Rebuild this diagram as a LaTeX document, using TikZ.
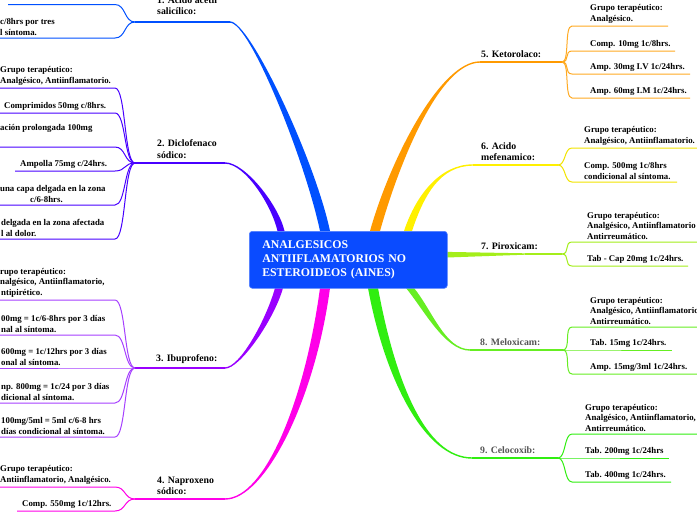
\documentclass[tikz,border=0pt]{standalone}
\usepackage{fontspec}
\setmainfont{Liberation Serif}
\usetikzlibrary{calc}
\definecolor{cbox}{HTML}{0A4BFF}
\definecolor{cba}{HTML}{0050FF}
\definecolor{cbb}{HTML}{4800FF}
\definecolor{cbc}{HTML}{9A00FF}
\definecolor{cbcs}{HTML}{A640FF}
\definecolor{cbd}{HTML}{FF00E8}
\definecolor{cbe}{HTML}{FF9A00}
\definecolor{cbes}{HTML}{FFAA22}
\definecolor{cbf}{HTML}{FFF000}
\definecolor{cbfs}{HTML}{F2E400}
\definecolor{cbg}{HTML}{A4EE1A}
\definecolor{cbh}{HTML}{66EE22}
\definecolor{cbi}{HTML}{30EE10}
\definecolor{grey}{HTML}{555555}
\tikzset{
  itemtxt/.style={font=\fontsize{8.8}{10.5}\selectfont\bfseries, align=left, inner sep=0pt, text=black},
  lbltxt/.style={font=\fontsize{9.8}{11.5}\selectfont\bfseries, align=left, inner sep=0pt, text=black},
  subline/.style={line width=1pt},
  stemline/.style={line width=1.4pt},
  centerbox/.style={fill=cbox, draw=cbox!70!white, line width=0.6pt, rounded corners=3pt,
    text=white, font=\fontsize{11.8}{14}\selectfont\bfseries, align=left,
    text width=172pt, inner xsep=13pt, inner ysep=0pt, minimum height=57pt},
}
% tapered main branch: color, S, c1, c2, E, halfwidth, end offset
\newcommand\mbranch[7]{%
  \fill[#1] ($(#5)+(0,#7)$) .. controls ($(#4)+(0,#7)$) and ($(#3)+(#6,0)$) .. ($(#2)+(#6,0)$)
    -- ($(#2)-(#6,0)$) .. controls ($(#3)-(#6,0)$) and ($(#4)-(0,#7)$) .. ($(#5)-(0,#7)$) -- cycle;}
% left item: name, color, junction, lineY, x0, tx, text
\newcommand\litem[7]{%
  \coordinate (#1-l) at (#5,#4);
  \coordinate (#1-r) at (115,#4);
  \node[itemtxt,anchor=south west] (#1) at (#6,#4-2.5) {#7};
  \draw[subline,#2] (#1-l) -- (#1-r) .. controls ($(#1-r)+(11,0)$) and ($(#3)+(-11,0)$) .. (#3);}
% right item: name, color, junction, lineY, tx, xend, text
\newcommand\ritem[7]{%
  \coordinate (#1-l) at (572,#4);
  \coordinate (#1-r) at (#6,#4);
  \node[itemtxt,anchor=south west] (#1) at (#5,#4-2.5) {#7};
  \draw[subline,#2] (#3) .. controls ($(#3)+(8,0)$) and ($(#1-l)+(-8,0)$) .. (#1-l) -- (#1-r);}
\begin{document}
\begin{tikzpicture}[x=1pt,y=-1pt]
\useasboundingbox (0,0) rectangle (697,520);
\fill[white] (0,0) rectangle (697,520);
\clip (0,0) rectangle (697,520);

% anchor points
\coordinate (S1) at (325,231); \coordinate (E1) at (230,22);  \coordinate (J1) at (135,22);
\coordinate (S2) at (281,231); \coordinate (E2) at (225,163); \coordinate (J2) at (135,163);
\coordinate (S3) at (279,288); \coordinate (E3) at (225,368); \coordinate (J3) at (135,368);
\coordinate (S4) at (325,288); \coordinate (E4) at (225,499); \coordinate (J4) at (135,499);
\coordinate (S5) at (375,231); \coordinate (E5) at (480,62);  \coordinate (J5) at (562,62);
\coordinate (S6) at (408,231); \coordinate (E6) at (473,165); \coordinate (J6) at (558,165);
\coordinate (S7) at (447,254.7); \coordinate (E7) at (525,254); \coordinate (J7) at (562,254);
\coordinate (S8) at (410,288); \coordinate (E8) at (470,350); \coordinate (J8) at (563,350);
\coordinate (S9) at (373,288); \coordinate (E9) at (472,458); \coordinate (J9) at (558,458);

% main branches
\mbranch{cba}{S1}{310,160}{250,22}{E1}{5}{-0.7}
\mbranch{cbb}{S2}{275,205}{245,163}{E2}{3.5}{-0.7}
\mbranch{cbc}{S3}{270,320}{240,368}{E3}{4}{0.7}
\mbranch{cbd}{S4}{310,400}{265,499}{E4}{5}{0.7}
\mbranch{cbe}{S5}{395,160}{440,62}{E5}{5}{0.7}
\mbranch{cbf}{S6}{420,195}{440,165}{E6}{4}{0.7}
\fill[cbg] ($(S7)+(0,-2.8)$) -- ($(S7)+(0,2.8)$) -- ($(E7)+(0,0.7)$) -- ($(E7)+(0,-0.7)$) -- cycle;
\mbranch{cbh}{S8}{428,310}{445,350}{E8}{4}{-0.7}
\mbranch{cbi}{S9}{390,380}{425,458}{E9}{5}{-0.7}

\draw[stemline,cba] (E1) -- (J1);
\draw[stemline,cbb] (E2) -- (J2);
\draw[stemline,cbc] (E3) -- (J3);
\draw[stemline,cbd] (E4) -- (J4);
\draw[stemline,cbe] (E5) -- (J5);
\draw[stemline,cbf] (E6) -- (J6);
\draw[stemline,cbg] (E7) -- (J7);
\draw[stemline,cbh] (E8) -- (J8);
\draw[stemline,cbi] (E9) -- (J9);

% center
\node[centerbox,anchor=north west] (c) at (249,231) {ANALGESICOS\\ANTIIFLAMATORIOS NO\\ESTEROIDEOS (AINES)};

% branch labels
\node[lbltxt,anchor=south west] (L1) at (157,15) {1. Acido acetil\\salicílico:};
\node[lbltxt,anchor=south west] (L2) at (157,158.5) {2. Diclofenaco\\sódico:};
\node[lbltxt,anchor=south west] (L3) at (156,364) {3. Ibuprofeno:};
\node[lbltxt,anchor=south west] (L4) at (157,495) {4. Naproxeno\\sódico:};
\node[lbltxt,anchor=south west] (L5) at (481,58) {5. Ketorolaco:};
\node[lbltxt,anchor=south west] (L6) at (481,161) {6. Acido\\mefenamico:};
\node[lbltxt,anchor=south west] (L7) at (481,250) {7. Piroxicam:};
\node[lbltxt,anchor=south west,text=grey] (L8) at (480,346) {8. Meloxicam:};
\node[lbltxt,anchor=south west,text=grey] (L9) at (480,454) {9. Celocoxib:};

% 1. Acido acetil salicilico
\coordinate (a1-l) at (8,4.5); \coordinate (a1-r) at (115,4.5);
\draw[subline,cba] (a1-l) -- (a1-r) .. controls ($(a1-r)+(11,0)$) and ($(J1)+(-11,0)$) .. (J1);
\litem{a2}{cba}{J1}{38}{0}{0}{c/8hrs por tres\\l síntoma.}

% 2. Diclofenaco
\litem{b1}{cbb}{J2}{88}{0}{0}{Grupo terapéutico:\\Analgésico, Antiinflamatorio.}
\litem{b2}{cbb}{J2}{113}{0}{4}{Comprimidos 50mg c/8hrs.}
\litem{b3}{cbb}{J2}{147}{0}{0}{ación prolongada 100mg\\\strut}
\litem{b4}{cbb}{J2}{171}{15}{20}{Ampolla 75mg c/24hrs.}
\litem{b5}{cbb}{J2}{205}{0}{0}{una capa delgada en la zona\\\hspace*{30pt}c/6-8hrs.}
\litem{b6}{cbb}{J2}{239}{0}{1}{delgada en la zona afectada\\l al dolor.}

% 3. Ibuprofeno
\litem{c1}{cbcs}{J3}{300}{0}{0}{rupo terapéutico:\\nalgésico, Antiinflamatorio,\\\hspace*{1pt}ntipirético.}
\litem{c2}{cbcs}{J3}{335}{0}{1}{00mg = 1c/6-8hrs por 3 días\\nal al síntoma.}
\litem{c3}{cbcs}{J3}{368}{0}{1}{600mg = 1c/12hrs por 3 días\\onal al síntoma.}
\litem{c4}{cbcs}{J3}{403}{0}{1}{np. 800mg = 1c/24 por 3 días\\dicional al síntoma.}
\litem{c5}{cbcs}{J3}{437}{0}{1}{100mg/5ml = 5ml c/6-8 hrs\\días condicional al síntoma.}

% 4. Naproxeno
\litem{d1}{cbd}{J4}{487}{0}{0}{Grupo terapéutico:\\Antiinflamatorio, Analgésico.}
\litem{d2}{cbd}{J4}{511}{17}{22}{Comp. 550mg 1c/12hrs.}

% 5. Ketorolaco
\ritem{e1}{cbes}{J5}{26}{590}{668}{Grupo terapéutico:\\Analgésico.}
\ritem{e2}{cbes}{J5}{51}{590}{675}{Comp. 10mg 1c/8hrs.}
\ritem{e3}{cbes}{J5}{74}{590}{690}{Amp. 30mg I.V 1c/24hrs.}
\ritem{e4}{cbes}{J5}{98}{590}{690}{Amp. 60mg I.M 1c/24hrs.}

% 6. Acido mefenamico
\ritem{f1}{cbfs}{J6}{148}{584}{697}{Grupo terapéutico:\\Analgésico, Antiinflamatorio.}
\ritem{f2}{cbfs}{J6}{182}{584}{677}{Comp. 500mg 1c/8hrs\\condicional al síntoma.}

% 7. Piroxicam
\ritem{g1}{cbg}{J7}{242}{587}{697}{Grupo terapéutico:\\Analgésico, Antiinflamatorio\\Antirreumático.}
\ritem{g2}{cbg}{J7}{266}{587}{688}{Tab - Cap 20mg 1c/24hrs.}

% 8. Meloxicam
\ritem{h1}{cbh}{J8}{327}{590}{697}{Grupo terapéutico:\\Analgésico, Antiinflamatorio\\Antirreumático.}
\ritem{h2}{cbh}{J8}{350}{590}{672}{Tab. 15mg 1c/24hrs.}
\ritem{h3}{cbh}{J8}{374}{590}{697}{Amp. 15mg/3ml 1c/24hrs.}

% 9. Celocoxib
\ritem{i1}{cbi}{J9}{434}{585}{697}{Grupo terapéutico:\\Analgésico, Antiinflamatorio,\\Antirreumático.}
\ritem{i2}{cbi}{J9}{458}{585}{669}{Tab. 200mg 1c/24hrs}
\ritem{i3}{cbi}{J9}{482}{585}{671}{Tab. 400mg 1c/24hrs.}
\end{tikzpicture}
\end{document}
